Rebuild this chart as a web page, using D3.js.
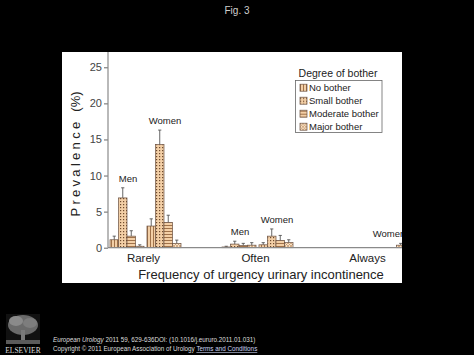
<!DOCTYPE html>
<html><head><meta charset="utf-8">
<script src="https://cdn.jsdelivr.net/npm/d3@7"></script>
<style>html,body{margin:0;padding:0;background:#000;}svg{display:block;}</style>
</head><body>
<script>
const categories = ["Rarely", "Often", "Always"];
const sexes = ["Men", "Women"];
const bothers = ["No bother", "Small bother", "Moderate bother", "Major bother"];
const menValues   = [[1.1, 6.9, 1.6, 0.2], [0.1, 0.5, 0.3, 0.35], [0, 0, 0, 0]];
const menUpper    = [[1.6, 8.3, 2.35, 0.4], [0.2, 0.9, 0.6, 0.7], [0, 0, 0, 0]];
const womenValues = [[3.0, 14.3, 3.5, 0.6], [0.4, 1.6, 1.0, 0.7], [0, 0, 0, 0.35]];
const womenUpper  = [[4.0, 16.3, 4.5, 1.05], [0.7, 2.6, 1.7, 1.1], [0, 0, 0, 0.6]];
const yTicks = [0, 5, 10, 15, 20, 25];

const W = 474, H = 355;
const svg = d3.select("body").append("svg").attr("width", W).attr("height", H);
svg.append("rect").attr("width", W).attr("height", H).attr("fill", "#000");

// title
svg.append("text").attr("x", 237).attr("y", 14).attr("text-anchor", "middle")
  .attr("font-family", "Liberation Sans, Arial, sans-serif").attr("font-size", 10)
  .attr("fill", "#cfcfcf").text("Fig. 3");

// white panel
const panel = {x: 62, y: 52, w: 340, h: 231};
svg.append("rect").attr("x", panel.x).attr("y", panel.y).attr("width", panel.w).attr("height", panel.h).attr("fill", "#fff");

const defs = svg.append("defs");
defs.append("clipPath").attr("id", "clip").append("rect")
  .attr("x", panel.x).attr("y", panel.y).attr("width", panel.w).attr("height", panel.h);

const fillC = "#f3cfa6", lineC = "#a0724a";
function pat(id, draw) {
  const p = defs.append("pattern").attr("id", id).attr("patternUnits", "userSpaceOnUse")
    .attr("width", 3).attr("height", 3);
  p.append("rect").attr("width", 3).attr("height", 3).attr("fill", fillC);
  draw(p);
}
pat("p0", p => p.append("rect").attr("x", 0).attr("y", 0).attr("width", 1).attr("height", 3).attr("fill", lineC));
pat("p1", p => { p.append("rect").attr("x", 0).attr("y", 0).attr("width", 1.2).attr("height", 1.2).attr("fill", "#6e4a2c"); });
pat("p2", p => p.append("rect").attr("x", 0).attr("y", 0).attr("width", 3).attr("height", 1).attr("fill", lineC));
pat("p3", p => { p.append("rect").attr("width", 3).attr("height", 3).attr("fill", "#f8e3c8");
  p.append("path").attr("d", "M0,0L3,3M3,0L0,3").attr("stroke", "#c49468").attr("stroke-width", 0.7); });
const patIds = ["p0", "p1", "p2", "p3"];

const y = d3.scaleLinear().domain([0, 25]).range([247.7, 67.3]);
const x0 = d3.scaleBand().domain(categories).range([69, 446]).padding(0.366);
const x1 = d3.scaleBand().domain(sexes).range([0, x0.bandwidth()]).paddingInner(0.08);
const x2 = d3.scaleBand().domain(bothers).range([0, x1.bandwidth()]);

const font = "Liberation Sans, Arial, sans-serif";
const g = svg.append("g").attr("clip-path", "url(#clip)");

// bars
const rows = [];
categories.forEach((c, ci) => {
  sexes.forEach((s, si) => {
    const vals = si === 0 ? menValues[ci] : womenValues[ci];
    const ups = si === 0 ? menUpper[ci] : womenUpper[ci];
    bothers.forEach((b, bi) => rows.push({c, s, b, bi, v: vals[bi], u: ups[bi]}));
  });
});
const bx = d => x0(d.c) + x1(d.s) + x2(d.b);

// error bars
const eb = rows.filter(d => d.v > 0);
g.selectAll("line.err").data(eb).join("line")
  .attr("x1", d => bx(d) + x2.bandwidth() / 2).attr("x2", d => bx(d) + x2.bandwidth() / 2)
  .attr("y1", d => y(d.v)).attr("y2", d => y(d.u)).attr("stroke", "#555").attr("stroke-width", 0.9);
g.selectAll("line.cap").data(eb).join("line")
  .attr("x1", d => bx(d) + x2.bandwidth() / 2 - 1.6).attr("x2", d => bx(d) + x2.bandwidth() / 2 + 1.6)
  .attr("y1", d => y(d.u)).attr("y2", d => y(d.u)).attr("stroke", "#555").attr("stroke-width", 0.9);

g.selectAll("rect.bar").data(rows.filter(d => d.v > 0)).join("rect")
  .attr("x", d => bx(d)).attr("width", x2.bandwidth())
  .attr("y", d => y(d.v)).attr("height", d => y(0) - y(d.v))
  .attr("fill", d => `url(#${patIds[d.bi]})`).attr("stroke", "#6a5040").attr("stroke-width", 0.7);

// group labels
const groups = [];
categories.forEach((c, ci) => sexes.forEach((s, si) => {
  const ups = si === 0 ? menUpper[ci] : womenUpper[ci];
  const m = d3.max(ups);
  if (m > 0) groups.push({c, s, m});
}));
g.selectAll("text.grp").data(groups).join("text")
  .attr("x", d => x0(d.c) + x1(d.s) + x1.bandwidth() / 2 + 1)
  .attr("y", d => y(d.m) - 6).attr("text-anchor", "middle")
  .attr("font-family", font).attr("font-size", 9.5).attr("fill", "#222").text(d => d.s);

// x axis line
g.append("line").attr("x1", 108).attr("x2", 460).attr("y1", y(0)).attr("y2", y(0))
  .attr("stroke", "#8a8a8a").attr("stroke-width", 1.2);

// y axis
const ya = svg.append("g").attr("transform", "translate(108,0)")
  .call(d3.axisLeft(y).tickValues(yTicks).tickSize(4).tickPadding(2));
ya.select(".domain").remove();
ya.append("line").attr("x1", 0).attr("x2", 0).attr("y1", panel.y).attr("y2", y(0)).attr("stroke", "#8a8a8a").attr("stroke-width", 1.2);
ya.selectAll(".tick line").attr("stroke", "#666");
ya.selectAll(".tick text").attr("font-family", font).attr("font-size", 11).attr("fill", "#444");

// category labels
svg.append("g").selectAll("text").data(categories).join("text")
  .attr("x", d => x0(d) + x0.bandwidth() / 2 - 2).attr("y", 262).attr("text-anchor", "middle")
  .attr("font-family", font).attr("font-size", 11.5).attr("fill", "#222").text(d => d);

svg.append("text").attr("x", 261).attr("y", 279).attr("text-anchor", "middle")
  .attr("font-family", font).attr("font-size", 13).attr("fill", "#222")
  .text("Frequency of urgency urinary incontinence");

// y label
const yl = svg.append("text").attr("transform", "translate(80,154) rotate(-90)").attr("text-anchor", "middle")
  .attr("font-family", font).attr("font-size", 13).attr("fill", "#222");
yl.append("tspan").attr("letter-spacing", "3.3px").text("Prevalence ");
yl.append("tspan").text("(%)");

// legend
svg.append("text").attr("x", 338).attr("y", 76.5).attr("text-anchor", "middle")
  .attr("font-family", font).attr("font-size", 10.5).attr("fill", "#222").text("Degree of bother");
svg.append("rect").attr("x", 295.5).attr("y", 80.5).attr("width", 86.5).attr("height", 52)
  .attr("fill", "#fff").attr("stroke", "#666").attr("stroke-width", 0.8);
const lg = svg.append("g").selectAll("g").data(bothers).join("g")
  .attr("transform", (d, i) => `translate(300,${87.7 + i * 13})`);
lg.append("rect").attr("x", 0).attr("y", -3.5).attr("width", 7).attr("height", 7)
  .attr("fill", (d, i) => `url(#${patIds[i]})`).attr("stroke", "#6a5040").attr("stroke-width", 0.7);
lg.append("text").attr("x", 9).attr("y", 3.5).attr("font-family", font).attr("font-size", 9.5)
  .attr("fill", "#222").text(d => d);

// footer: logo approximation
const logo = svg.append("g");
logo.append("rect").attr("x", 6).attr("y", 314).attr("width", 34).attr("height", 30).attr("fill", "#111");
logo.append("ellipse").attr("cx", 23).attr("cy", 325).attr("rx", 15).attr("ry", 10).attr("fill", "#6a6a6a");
logo.append("ellipse").attr("cx", 16).attr("cy", 321).attr("rx", 7).attr("ry", 5).attr("fill", "#8a8a8a");
logo.append("ellipse").attr("cx", 30).attr("cy", 323).attr("rx", 7).attr("ry", 5).attr("fill", "#7d7d7d");
logo.append("rect").attr("x", 21).attr("y", 330).attr("width", 4).attr("height", 12).attr("fill", "#7a7a7a");
logo.append("rect").attr("x", 6).attr("y", 340).attr("width", 34).attr("height", 4).attr("fill", "#5a5a5a");
svg.append("text").attr("x", 23).attr("y", 352.5).attr("text-anchor", "middle")
  .attr("font-family", "Liberation Serif, serif").attr("font-size", 7.5).attr("fill", "#ddd").text("ELSEVIER");

const f1 = svg.append("text").attr("x", 53).attr("y", 342).attr("font-family", font).attr("font-size", 6.3).attr("fill", "#ddd");
f1.append("tspan").attr("font-style", "italic").text("European Urology");
f1.append("tspan").text(" 2011 59, 629-636DOI: (10.1016/j.eururo.2011.01.031)");
const f2 = svg.append("text").attr("x", 53).attr("y", 351).attr("font-family", font).attr("font-size", 6.3).attr("fill", "#ddd");
f2.append("tspan").text("Copyright © 2011 European Association of Urology ");
f2.append("tspan").attr("text-decoration", "underline").attr("fill", "#c8d0f0").text("Terms and Conditions");
</script>
</body></html>
